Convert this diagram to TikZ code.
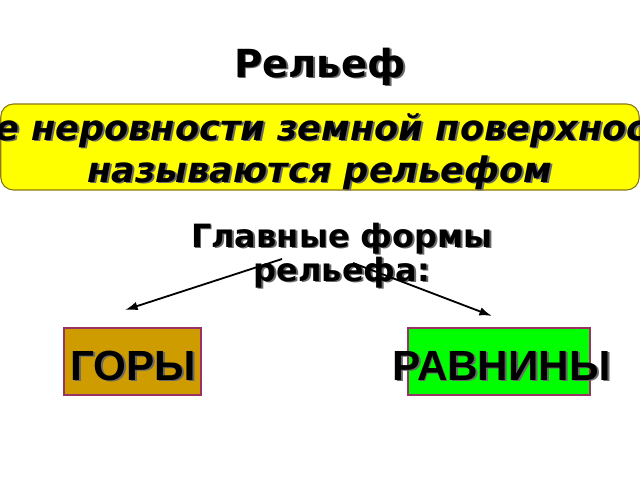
\documentclass[tikz,border=0pt]{standalone}
\usepackage{fontspec}
\setmainfont{DejaVu Sans}
\newfontfamily\boxfont{Liberation Sans}
\usepackage{xcolor}
\usetikzlibrary{arrows.meta,positioning}

\definecolor{defyellow}{RGB}{255,255,0}
\definecolor{defborder}{RGB}{140,120,20}
\definecolor{goldfill}{RGB}{207,156,0}
\definecolor{greenfill}{RGB}{0,255,0}
\definecolor{boxborder}{RGB}{153,51,102}
\definecolor{shadowgray}{RGB}{105,105,105}

% text with a small grey shadow
\newcommand{\shtxt}[1]{\makebox[0pt][l]{\raisebox{-1.3pt}[0pt][0pt]{\hspace{1.3pt}\textcolor{shadowgray}{#1}}}#1}

\tikzset{
	titletext/.style={font=\fontsize{27.5}{34}\selectfont\bfseries, anchor=base, inner sep=0pt},
	deftext/.style={font=\fontsize{25}{30}\selectfont\bfseries\itshape, anchor=base, inner sep=0pt},
	formstext/.style={font=\fontsize{22.8}{26}\selectfont\bfseries, anchor=base, inner sep=0pt},
	formbox/.style={draw=boxborder, line width=2pt, inner sep=0pt},
	boxtext/.style={font=\boxfont\fontsize{30}{34}\selectfont\bfseries, anchor=base, inner sep=0pt},
	formarrow/.style={-{Latex[length=9pt,width=6pt]}, line width=1.3pt}
}

\begin{document}
\begin{tikzpicture}[x=0.025cm,y=-0.025cm]
		\useasboundingbox (0,0) rectangle (640,480);
		\node[titletext] (title) at (320,77) {\shtxt{Рельеф}};
		\draw[fill=defyellow,draw=defborder,line width=0.8pt,rounded corners=9pt] (0.8,104) rectangle (639.2,190);
		\node[deftext] (def1) at (320,140) {\shtxt{Все неровности земной поверхности}};
		\node[deftext] (def2) at (320,182) {\shtxt{называются рельефом}};
		\node[formstext] (forms1) at (342,247) {\shtxt{Главные формы}};
		\node[formstext] (forms2) at (342,281) {\shtxt{рельефа:}};
		\node[formbox,fill=goldfill,minimum width=3.42cm,minimum height=1.67cm] (gory) at (132.5,361.5) {};
		\node[boxtext] (gorytext) at (133,380) {\shtxt{ГОРЫ}};
		\node[formbox,fill=greenfill,minimum width=4.55cm,minimum height=1.67cm] (ravniny) at (499,361.5) {};
		\node[boxtext] (ravninytext) at (501.5,380) {\shtxt{РАВНИНЫ}};
		\coordinate (fromleft) at (282,259);
		\coordinate (fromright) at (353,263);
		\coordinate (toleft) at (125,310);
		\coordinate (toright) at (492,316);
		\draw[formarrow] (fromleft) -- (toleft);
		\draw[formarrow] (fromright) -- (toright);
	\end{tikzpicture}
\end{document}
